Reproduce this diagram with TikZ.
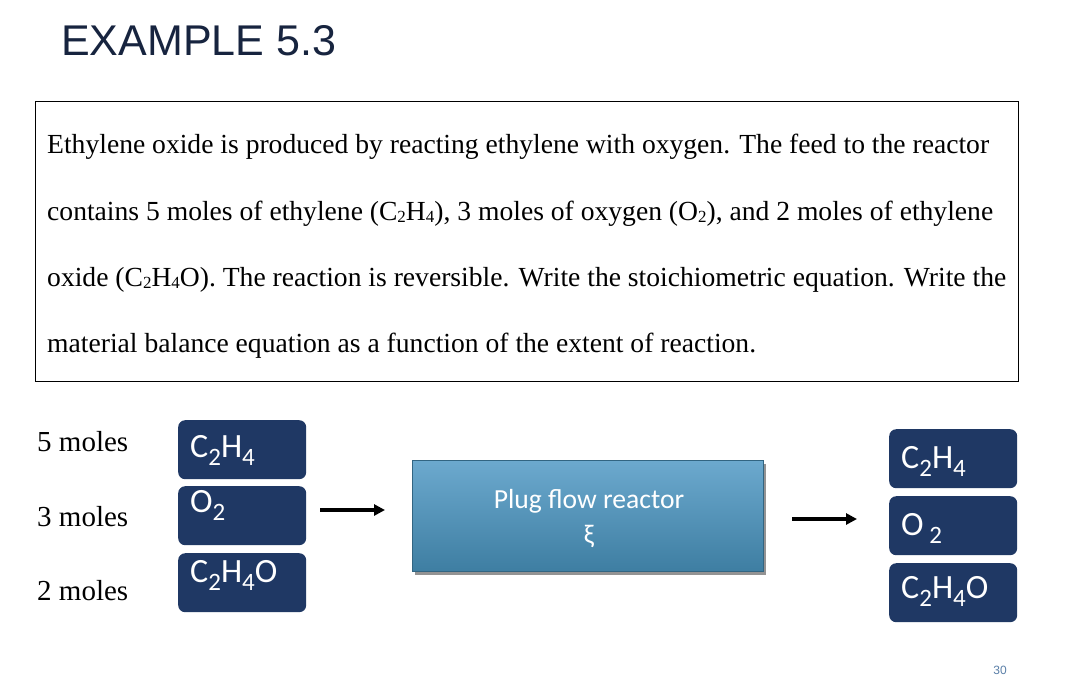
\documentclass[tikz,border=0pt]{standalone}
\usepackage{fontspec}
\setmainfont{Liberation Serif}
\newfontfamily\titlefont{Liberation Sans}
\newfontfamily\boxfont{Carlito}
\usetikzlibrary{shadows,arrows.meta}
\definecolor{navy}{HTML}{1F3864}
\definecolor{titlecol}{HTML}{17243F}
\definecolor{reacttop}{HTML}{6CA9CE}
\definecolor{reactbot}{HTML}{3E7EA2}
\definecolor{pagecol}{HTML}{5A7FA8}
\newcommand{\mysub}[1]{\raisebox{-0.25em}{\fontsize{25}{0pt}\selectfont #1}}
\newcommand{\tsub}[1]{\raisebox{-0.1em}{\fontsize{17}{0pt}\selectfont #1}}
\tikzset{
  chembox/.style={fill=navy, rounded corners=7pt, minimum width=128pt, minimum height=59pt, inner sep=0pt},
  chemtext/.style={text=white, font=\boxfont\fontsize{34}{34}\selectfont, anchor=base west, inner sep=0pt},
  molelabel/.style={font=\fontsize{29}{29}\selectfont, anchor=base west, inner sep=0pt},
  bodyline/.style={font=\fontsize{27.6}{27.6}\selectfont, anchor=base west, inner sep=0pt},
  flow/.style={line width=3.5pt, -{Triangle[length=11pt,width=11pt]}}
}
\begin{document}
\begin{tikzpicture}[x=1pt,y=-1pt]
\useasboundingbox[fill=white] (0,0) rectangle (1066,697);
% title
\node[anchor=base west, inner sep=0pt, text=titlecol, font=\titlefont\fontsize{43}{43}\selectfont] (title) at (61,55) {EXAMPLE 5.3};
% problem box
\node[draw=black, line width=0.8pt, minimum width=983pt, minimum height=280pt, anchor=north west, inner sep=0pt] (problem) at (35,101) {};
\node[bodyline] (l1) at (47,153) {Ethylene oxide is produced by reacting ethylene with oxygen. The feed to the reactor};
\node[bodyline] (l2) at (47,220) {contains 5 moles of ethylene (C\tsub{2}H\tsub{4}), 3 moles of oxygen (O\tsub{2}), and 2 moles of ethylene};
\node[bodyline] (l3) at (47,286) {oxide (C\tsub{2}H\tsub{4}O). The reaction is reversible. Write the stoichiometric equation. Write the};
\node[bodyline] (l4) at (47,352) {material balance equation as a function of the extent of reaction.};
% mole labels
\node[molelabel] (m5) at (37,451) {5 moles};
\node[molelabel] (m3) at (37,526) {3 moles};
\node[molelabel] (m2) at (37,600) {2 moles};
% left boxes
\node[chembox, anchor=north west] (in1) at (178,420) {};
\node[chembox, anchor=north west] (in2) at (178,486) {};
\node[chembox, anchor=north west] (in3) at (178,553) {};
\node[chemtext] (in1t) at (190,457) {C\mysub{2}H\mysub{4}};
\node[chemtext] (in2t) at (190,512) {O\mysub{2}};
\node[chemtext] (in3t) at (190,582) {C\mysub{2}H\mysub{4}O};
% reactor
\node[draw=reactbot!80!black, line width=0.8pt, top color=reacttop, bottom color=reactbot, minimum width=351pt, minimum height=111pt, anchor=north west, inner sep=0pt, drop shadow={shadow xshift=2.5pt, shadow yshift=-3.5pt, opacity=0.6, fill=black!70}] (reactor) at (412,460) {};
\node[text=white, font=\boxfont\fontsize{27.6}{27.6}\selectfont, anchor=base, inner sep=0pt] (rt) at (589,508) {Plug flow reactor};
\node[text=white, font=\boxfont\fontsize{27}{27}\selectfont, anchor=base, inner sep=0pt] (xi) at (589,543) {ξ};
% right boxes
\node[chembox, anchor=north west] (out1) at (889,429) {};
\node[chembox, anchor=north west] (out2) at (889,496) {};
\node[chembox, anchor=north west] (out3) at (889,563) {};
\node[chemtext] (out1t) at (901,468) {C\mysub{2}H\mysub{4}};
\node[chemtext] (out2t) at (901,535) {O\,\mysub{2}};
\node[chemtext] (out3t) at (901,598) {C\mysub{2}H\mysub{4}O};
% arrows
\coordinate (a1s) at (320,510);
\coordinate (a1e) at (385,510);
\coordinate (a2s) at (792,519);
\coordinate (a2e) at (857,519);
\draw[flow] (a1s) -- (a1e);
\draw[flow] (a2s) -- (a2e);
% page number
\node[text=pagecol, font=\titlefont\fontsize{12}{12}\selectfont, anchor=base, inner sep=0pt] (page) at (1000,674) {30};
\end{tikzpicture}
\end{document}
